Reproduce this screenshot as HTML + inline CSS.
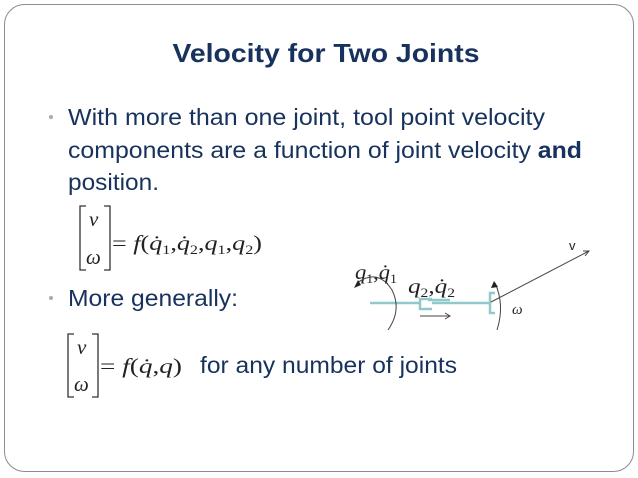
<!DOCTYPE html>
<html><head><meta charset="utf-8"><style>
html,body{margin:0;padding:0;background:#fff;width:638px;height:478px;overflow:hidden}
svg{display:block}
</style></head><body>
<svg width="638" height="478" viewBox="0 0 638 478" xmlns="http://www.w3.org/2000/svg">
<rect x="4.5" y="4.5" width="629" height="467" rx="20" fill="#fff" stroke="#8c8c8c" stroke-width="1"/>
<g font-family="Liberation Sans, sans-serif" fill="#17325c">
<text x="326" y="62" text-anchor="middle" font-size="26" font-weight="bold" textLength="307" lengthAdjust="spacingAndGlyphs">Velocity for Two Joints</text>
<text x="68" y="125" font-size="23" textLength="477" lengthAdjust="spacingAndGlyphs">With more than one joint, tool point velocity</text>
<text x="68" y="158" font-size="23" textLength="514" lengthAdjust="spacingAndGlyphs">components are a function of joint velocity <tspan font-weight="bold">and</tspan></text>
<text x="68" y="190" font-size="23" textLength="91" lengthAdjust="spacingAndGlyphs">position.</text>
<text x="68" y="306" font-size="23" textLength="170" lengthAdjust="spacingAndGlyphs">More generally:</text>
<text x="200" y="373" font-size="23" textLength="257" lengthAdjust="spacingAndGlyphs">for any number of joints</text>
</g>
<circle cx="51" cy="117" r="2" fill="#aaa"/>
<circle cx="51" cy="298" r="2" fill="#aaa"/>
<g fill="none" stroke="#333" stroke-width="1.3">
<path d="M86 206 H80 V270 H86"/><path d="M104 206 H110 V270 H104"/>
<path d="M74 334 H68 V397 H74"/><path d="M92 334 H98 V397 H92"/>
</g>
<g font-family="Liberation Serif, serif" font-style="italic" fill="#222" font-size="21">
<text x="89" y="226">v</text><text x="86" y="264">ω</text>
<text x="112" y="250" font-style="normal" textLength="150" lengthAdjust="spacingAndGlyphs">= <tspan font-style="italic">f</tspan>(<tspan font-style="italic">q̇</tspan><tspan font-size="13" dy="4">1</tspan><tspan dy="-4">,</tspan><tspan font-style="italic">q̇</tspan><tspan font-size="13" dy="4">2</tspan><tspan dy="-4">,</tspan><tspan font-style="italic">q</tspan><tspan font-size="13" dy="4">1</tspan><tspan dy="-4">,</tspan><tspan font-style="italic">q</tspan><tspan font-size="13" dy="4">2</tspan><tspan dy="-4">)</tspan></text>
<text x="77" y="354">v</text><text x="74" y="391">ω</text>
<text x="100" y="373" font-style="normal" textLength="82" lengthAdjust="spacingAndGlyphs">= <tspan font-style="italic">f</tspan>(<tspan font-style="italic">q̇</tspan>,<tspan font-style="italic">q</tspan>)</text>
<text x="355" y="279" font-style="normal" textLength="42" lengthAdjust="spacingAndGlyphs"><tspan font-style="italic">q</tspan><tspan font-size="13" dy="4">1</tspan><tspan dy="-4">,</tspan><tspan font-style="italic">q̇</tspan><tspan font-size="13" dy="4">1</tspan></text>
<text x="408" y="293" font-style="normal" textLength="47" lengthAdjust="spacingAndGlyphs"><tspan font-style="italic">q</tspan><tspan font-size="13" dy="4">2</tspan><tspan dy="-4">,</tspan><tspan font-style="italic">q̇</tspan><tspan font-size="13" dy="4">2</tspan></text>
<text x="512" y="314" font-size="15">ω</text>
</g>
<text x="569" y="250" font-family="Liberation Sans, sans-serif" font-size="13" fill="#222">v</text>
<g fill="none" stroke="#8fc9cc" stroke-width="2.5">
<line x1="370" y1="303" x2="420" y2="303"/>
<line x1="432" y1="303" x2="490" y2="303"/>
<path d="M432 299 H420 V309 H432"/>
<line x1="428" y1="300" x2="450" y2="300"/>
<path d="M495 293 H490 V313 H495"/>
</g>
<g fill="none" stroke="#444" stroke-width="1">
<path d="M357 283 Q378 268 392 290 Q402 310 388 330"/>
<path d="M497 330 Q505 305 495 283"/>
<line x1="491" y1="302" x2="589" y2="251"/>
<line x1="420" y1="316" x2="450" y2="316"/>
<path d="M583 251 L589 251 L585 256"/>
<path d="M445 313 L450 316 L445 319"/>
</g>
<path d="M354 288 L358 280 L361 285 Z" fill="#222"/>
<path d="M494 281 L491 288 L498 287 Z" fill="#222"/>
</svg>
</body></html>
